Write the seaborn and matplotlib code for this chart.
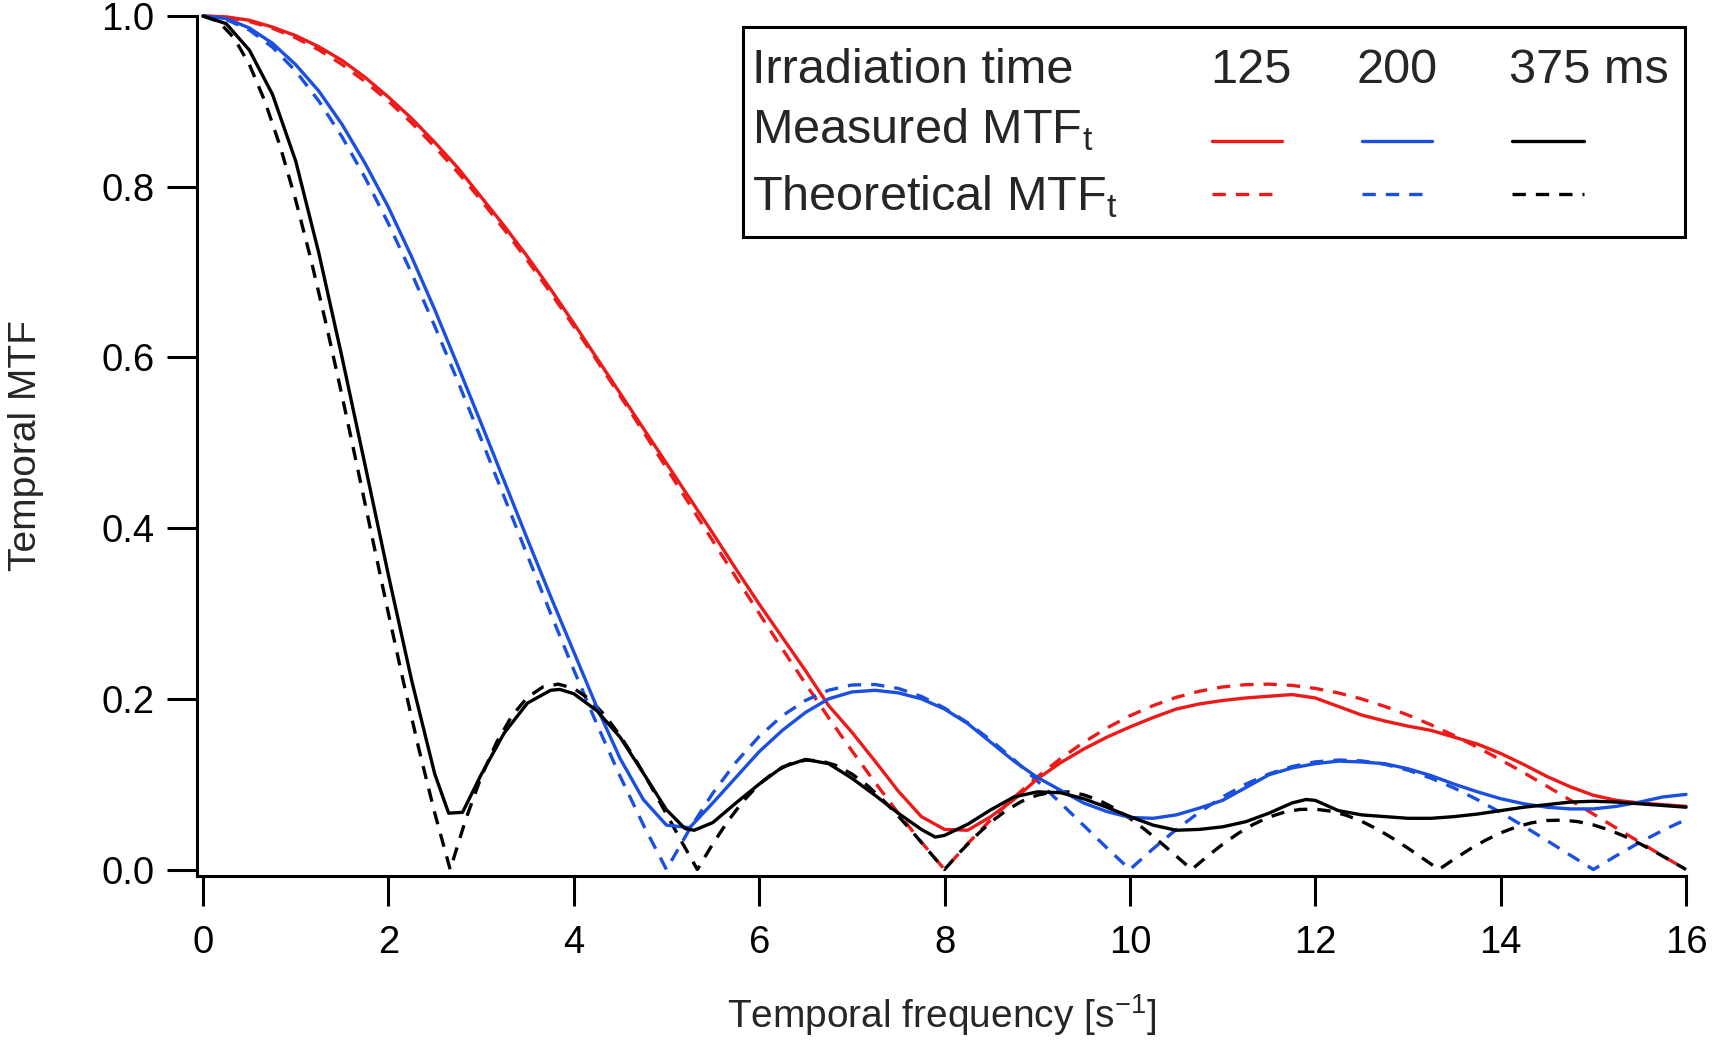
import numpy as np
import pandas as pd
import matplotlib
matplotlib.use("Agg")
import matplotlib.pyplot as plt
from matplotlib.lines import Line2D
from matplotlib.patches import Rectangle
import seaborn as sns

# ---------------- data ----------------
freq_q = np.linspace(0, 16, 65)        # 0.25 s^-1 grid
freq_6 = np.linspace(0, 16, 97)        # 1/6 s^-1 grid

theo_125 = [1.0, 0.9984, 0.9936, 0.9856, 0.9745, 0.9603, 0.9432, 0.9231, 0.9003,
            0.8749, 0.8469, 0.8167, 0.7842, 0.7498, 0.7136, 0.6758, 0.6366, 0.5963,
            0.5550, 0.5130, 0.4705, 0.4278, 0.3850, 0.3423, 0.3001, 0.2585, 0.2177,
            0.1778, 0.1392, 0.1020, 0.0662, 0.0322, 0.0, 0.0303, 0.0584, 0.0845,
            0.1083, 0.1298, 0.1489, 0.1657, 0.1801, 0.1920, 0.2017, 0.2089, 0.2139,
            0.2166, 0.2172, 0.2157, 0.2122, 0.2069, 0.1998, 0.1911, 0.1810, 0.1695,
            0.1568, 0.1432, 0.1286, 0.1134, 0.0976, 0.0814, 0.0650, 0.0485, 0.0321,
            0.0158, 0.0]

theo_200 = [1.0, 0.9959, 0.9836, 0.9634, 0.9355, 0.9003, 0.8584, 0.8103, 0.7568,
            0.6987, 0.6366, 0.5716, 0.5046, 0.4363, 0.3679, 0.3001, 0.2339, 0.1700,
            0.1093, 0.0524, 0.0, 0.0474, 0.0894, 0.1257, 0.1559, 0.1801, 0.1981,
            0.2101, 0.2162, 0.2168, 0.2122, 0.2028, 0.1892, 0.1719, 0.1515, 0.1286,
            0.1039, 0.0781, 0.0518, 0.0255, 0.0, 0.0243, 0.0468, 0.0672, 0.0850,
            0.1000, 0.1120, 0.1207, 0.1261, 0.1283, 0.1273, 0.1233, 0.1164, 0.1070,
            0.0954, 0.0818, 0.0668, 0.0507, 0.0339, 0.0169, 0.0, 0.0163, 0.0317,
            0.0459, 0.0585]

theo_375 = [1.0, 0.9936, 0.9745, 0.9432, 0.9003, 0.8469, 0.7842, 0.7136, 0.6366,
            0.5550, 0.4705, 0.3850, 0.3001, 0.2177, 0.1392, 0.0662, 0.0, 0.0584,
            0.1083, 0.1489, 0.1801, 0.2017, 0.2139, 0.2172, 0.2122, 0.1998, 0.1810,
            0.1568, 0.1286, 0.0976, 0.0650, 0.0321, 0.0, 0.0301, 0.0573, 0.0808,
            0.1000, 0.1144, 0.1238, 0.1281, 0.1273, 0.1218, 0.1120, 0.0985, 0.0818,
            0.0629, 0.0424, 0.0211, 0.0, 0.0203, 0.0390, 0.0555, 0.0693, 0.0799,
            0.0871, 0.0908, 0.0909, 0.0876, 0.0811, 0.0718, 0.0600, 0.0464, 0.0314,
            0.0158, 0.0, 0.0153, 0.0295, 0.0422, 0.0530, 0.0614, 0.0672, 0.0704,
            0.0707, 0.0684, 0.0636, 0.0565, 0.0474, 0.0367, 0.0250, 0.0126, 0.0,
            0.0123, 0.0238, 0.0341, 0.0429, 0.0498, 0.0547, 0.0574, 0.0579, 0.0561,
            0.0523, 0.0465, 0.0391, 0.0304, 0.0207, 0.0105, 0.0]

meas_125 = [1.0, 0.999, 0.995, 0.987, 0.977, 0.964, 0.948, 0.928, 0.905, 0.880,
            0.852, 0.822, 0.788, 0.754, 0.718, 0.680, 0.640, 0.599, 0.558, 0.517,
            0.476, 0.435, 0.394, 0.352, 0.311, 0.272, 0.233, 0.192, 0.161, 0.127,
            0.092, 0.062, 0.047, 0.046, 0.062, 0.082, 0.106, 0.125, 0.141, 0.155,
            0.167, 0.178, 0.188, 0.194, 0.198, 0.201, 0.203, 0.205, 0.201, 0.191,
            0.181, 0.174, 0.168, 0.163, 0.155, 0.147, 0.136, 0.123, 0.109, 0.097,
            0.087, 0.081, 0.078, 0.076, 0.074]

meas_200 = [1.0, 0.997, 0.986, 0.968, 0.943, 0.912, 0.873, 0.827, 0.776, 0.718,
            0.656, 0.590, 0.523, 0.455, 0.387, 0.320, 0.255, 0.190, 0.130, 0.082,
            0.052, 0.049, 0.078, 0.108, 0.138, 0.163, 0.184, 0.200, 0.208, 0.210,
            0.207, 0.200, 0.188, 0.171, 0.149, 0.127, 0.108, 0.093, 0.078, 0.068,
            0.061, 0.060, 0.064, 0.072, 0.081, 0.096, 0.111, 0.119, 0.124, 0.127,
            0.126, 0.124, 0.118, 0.110, 0.100, 0.091, 0.083, 0.077, 0.073, 0.071,
            0.071, 0.074, 0.079, 0.085, 0.088]

freq_m375 = [0, 0.25, 0.5, 0.75, 1.0, 1.25, 1.5, 1.75, 2.0, 2.25, 2.5, 2.65, 2.8,
             3.0, 3.25, 3.5, 3.75, 3.85, 4.0, 4.25, 4.5, 4.75, 5.0, 5.2, 5.3, 5.5,
             5.75, 6.0, 6.25, 6.5, 6.75, 7.0, 7.25, 7.5, 7.75, 7.9, 8.0, 8.25, 8.5,
             8.75, 9.0, 9.25, 9.5, 9.75, 10.0, 10.25, 10.5, 10.75, 11.0, 11.25, 11.5,
             11.75, 11.9, 12.0, 12.25, 12.5, 12.75, 13.0, 13.25, 13.5, 13.75, 14.0,
             14.25, 14.5, 14.75, 15.0, 15.25, 15.5, 15.75, 16.0]
meas_375 = [1.0, 0.991, 0.960, 0.908, 0.830, 0.722, 0.600, 0.473, 0.345, 0.222,
            0.112, 0.066, 0.067, 0.111, 0.160, 0.195, 0.210, 0.211, 0.206, 0.186,
            0.155, 0.113, 0.070, 0.048, 0.046, 0.055, 0.078, 0.100, 0.120, 0.129,
            0.124, 0.107, 0.087, 0.066, 0.047, 0.038, 0.040, 0.053, 0.070, 0.085,
            0.091, 0.090, 0.083, 0.073, 0.062, 0.052, 0.046, 0.047, 0.050, 0.056,
            0.066, 0.078, 0.082, 0.081, 0.069, 0.064, 0.062, 0.060, 0.060, 0.062,
            0.065, 0.069, 0.073, 0.076, 0.079, 0.080, 0.079, 0.077, 0.075, 0.073]

x_ticks = [0, 2, 4, 6, 8, 10, 12, 14, 16]
y_ticks = [0.0, 0.2, 0.4, 0.6, 0.8, 1.0]
times = ["125", "200", "375 ms"]
colors = ["#ee1a1a", "#1a4fe0", "#000000"]

# ---------------- style ----------------
sns.set_style("ticks")
plt.rcParams["font.family"] = ["Liberation Sans", "DejaVu Sans"]
plt.rcParams["mathtext.fontset"] = "custom"
plt.rcParams["mathtext.rm"] = "Liberation Sans"
plt.rcParams["mathtext.it"] = "Liberation Sans:italic"
plt.rcParams["mathtext.bf"] = "Liberation Sans:bold"

W, H = 1720, 1042
fig = plt.figure(figsize=(W / 100, H / 100), dpi=100)
ax = fig.add_axes([197 / W, 1 - 876 / H, (1686 - 197) / W, (876 - 16) / H])

DASH = (0, (4.0, 3.0))
LW = 2.4

series = [
    (freq_q, theo_125, colors[0], True),
    (freq_q, theo_200, colors[1], True),
    (freq_6, theo_375, colors[2], True),
    (freq_q, meas_125, colors[0], False),
    (freq_q, meas_200, colors[1], False),
    (freq_m375, meas_375, colors[2], False),
]
for fx_, fy_, c, dashed in series:
    df = pd.DataFrame({"f": np.asarray(fx_, float), "v": np.asarray(fy_, float)})
    sns.lineplot(data=df, x="f", y="v", color=c, lw=LW, ax=ax,
                 estimator=None, sort=False, legend=False)
    ln = ax.get_lines()[-1]
    ln.set_clip_on(False)
    ln.set_solid_joinstyle("round")
    if dashed:
        ln.set_linestyle(DASH)

ax.set_xlim(-0.065, 16)
ax.set_ylim(-0.0076, 1.0)
ax.set_xticks(x_ticks)
ax.set_xticklabels([str(t) for t in x_ticks])
ax.set_yticks(y_ticks)
ax.set_yticklabels([f"{t:.1f}" for t in y_ticks])

for s in ["top", "right"]:
    ax.spines[s].set_visible(False)
for s in ["left", "bottom"]:
    ax.spines[s].set_linewidth(2.2)
    ax.spines[s].set_color("black")

ax.tick_params(axis="both", direction="out", length=21.6, width=2.2,
               labelsize=27.5, colors="black")
ax.tick_params(axis="x", pad=14)
ax.tick_params(axis="y", pad=9)

ax.set_xlabel("Temporal frequency [s$^{\\mathrm{-1}}$]", fontsize=28)
ax.set_ylabel("Temporal MTF", fontsize=28)
ax.xaxis.set_label_coords(0.5, (876 - 1028) / 860)
ax.xaxis.label.set_va("baseline")
ax.yaxis.set_label_coords((44 - 197) / 1489, 0.5)

# ---------------- custom legend ----------------
def fxp(px):
    return px / W

def fyp(py):
    return 1 - py / H

box = Rectangle((fxp(743), fyp(237)), (1685 - 743) / W, (237 - 27) / H,
                transform=fig.transFigure, facecolor="white", edgecolor="black",
                linewidth=2.2, zorder=5)
fig.add_artist(box)

LFS = 35
fig.text(fxp(752), fyp(83), "Irradiation time", fontsize=LFS, va="baseline", ha="left", zorder=6)
fig.text(fxp(1251), fyp(83), times[0], fontsize=LFS, va="baseline", ha="center", zorder=6)
fig.text(fxp(1397), fyp(83), times[1], fontsize=LFS, va="baseline", ha="center", zorder=6)
fig.text(fxp(1509), fyp(83), times[2], fontsize=LFS, va="baseline", ha="left", zorder=6)
fig.text(fxp(752), fyp(143), "Measured MTF$_{\\mathrm{t}}$", fontsize=LFS, va="baseline", ha="left", zorder=6)
fig.text(fxp(752), fyp(210), "Theoretical MTF$_{\\mathrm{t}}$", fontsize=LFS, va="baseline", ha="left", zorder=6)

seg_x = [(1212, 1282), (1362, 1432), (1512, 1584)]
for (x0, x1), c in zip(seg_x, colors):
    fig.add_artist(Line2D([fxp(x0), fxp(x1)], [fyp(141), fyp(141)], color=c, lw=LW,
                          transform=fig.transFigure, zorder=6))
    fig.add_artist(Line2D([fxp(x0), fxp(x1)], [fyp(194), fyp(194)], color=c, lw=LW,
                          linestyle=DASH, transform=fig.transFigure, zorder=6))

fig.savefig("out.png", dpi=100, facecolor="white")
